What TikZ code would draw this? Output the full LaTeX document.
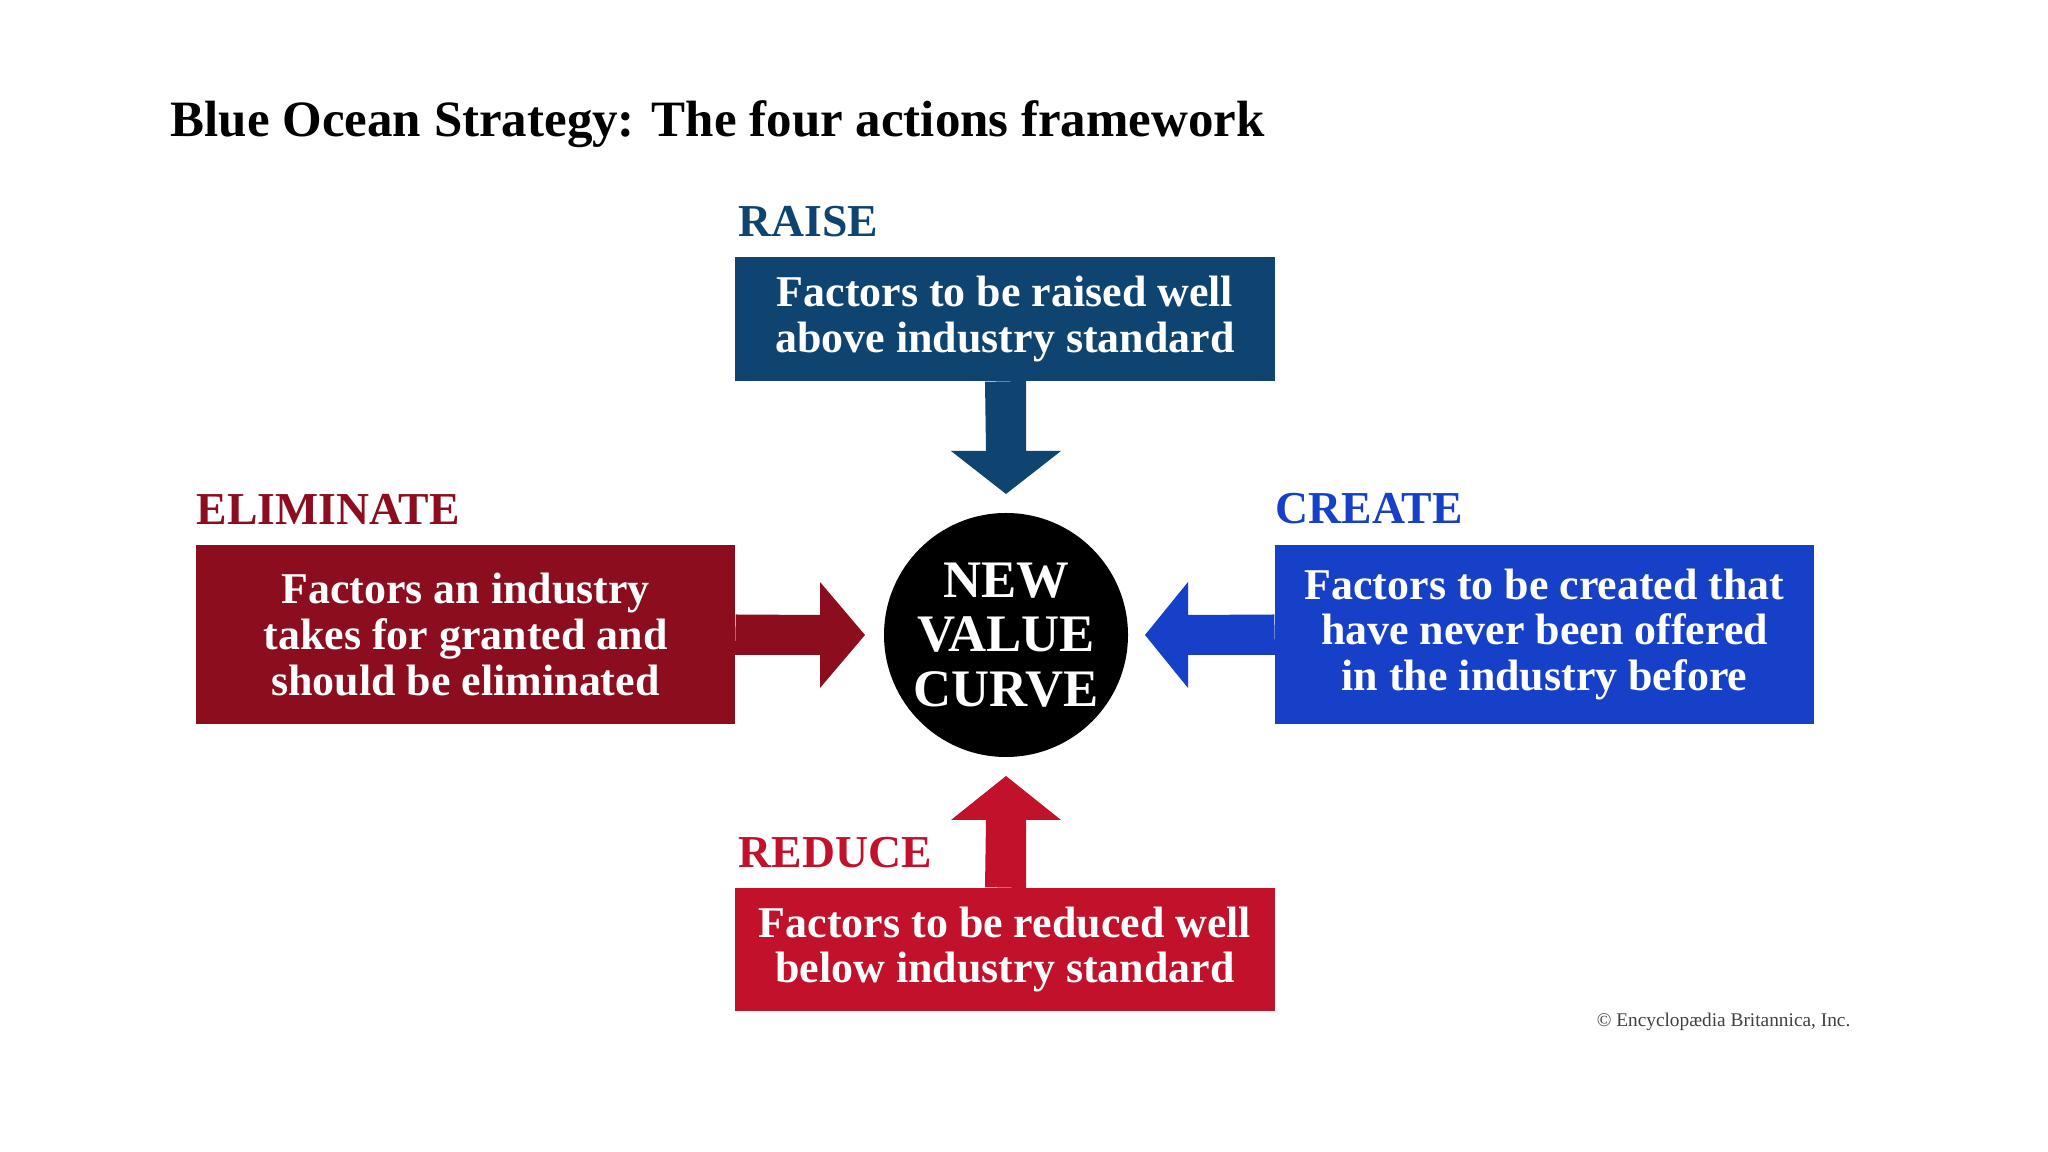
\documentclass[tikz,border=0pt]{standalone}
\usepackage{fontspec}
\setmainfont{Liberation Serif}
\begin{document}
\begin{tikzpicture}[x=0.1mm,y=-0.1mm,
  box/.style={fill=#1,text=white,inner sep=0,font=\fontsize{12.5}{13}\selectfont\bfseries,align=center},
  lab/.style={text=#1,anchor=west,inner sep=0,font=\fontsize{13}{15}\selectfont\bfseries}]
\definecolor{raisec}{HTML}{0F4471}
\definecolor{elimc}{HTML}{8C0E1E}
\definecolor{createc}{HTML}{1740C8}
\definecolor{reducec}{HTML}{C2122B}
\useasboundingbox (0,0) rectangle (2048,1152);
\fill[white] (0,0) rectangle (2048,1152);
\node[anchor=base west,inner sep=0,font=\fontsize{14.5}{16}\selectfont\bfseries] (title) at (170,137) {Blue Ocean Strategy: The four actions framework};
% boxes
\node[box=raisec,minimum width=54mm,minimum height=12.4mm] (raise) at (1005,319) {Factors to be raised well\\above industry standard};
\node[box=elimc,minimum width=53.9mm,minimum height=17.9mm] (elim) at (465.5,634.5) {Factors an industry\\takes for granted and\\should be eliminated};
\node[box=createc,minimum width=53.9mm,minimum height=17.9mm] (create) at (1544.5,634.5) {Factors to be created that\\have never been offered\\in the industry before};
\node[box=reducec,minimum width=54mm,minimum height=12.3mm] (reduce) at (1005,949.5) {Factors to be reduced well\\below industry standard};
\node[lab=raisec] (lraise) at (738,222) {RAISE};
\node[lab=elimc] (lelim) at (196,509) {ELIMINATE};
\node[lab=createc] (lcreate) at (1275,509) {CREATE};
\node[lab=reducec] (lreduce) at (738,853) {REDUCE};
% circle
\node[circle,fill=black,minimum size=24.4mm,inner sep=0,text=white,align=center,font=\fontsize{15}{15.5}\selectfont\bfseries] (nvc) at (1006,635) {NEW\\VALUE\\CURVE};
% arrows
\fill[raisec] (raise.south) ++(-20,0) -- (986,451) -- (951,451) -- (1006,494) -- (1061,451) -- (1026,451) -- (1026,381) -- cycle;
\fill[elimc] (elim.east) ++(0,-20) -- (820,615) -- (820,582) -- (865,635) -- (820,688) -- (820,655) -- (735,655) -- cycle;
\fill[createc] (create.west) ++(0,-20) -- (1188,615) -- (1188,582) -- (1145,635) -- (1188,688) -- (1188,655) -- (1275,655) -- cycle;
\fill[reducec] (reduce.north) ++(-20,0) -- (986,820) -- (951,820) -- (1006,776) -- (1061,820) -- (1026,820) -- (1026,888) -- cycle;
\node[anchor=east,inner sep=0,text=black!75,font=\fontsize{5.5}{6}\selectfont] (copy) at (1851,1022) {\textcopyright{} Encyclopædia Britannica, Inc.};
\end{tikzpicture}
\end{document}
